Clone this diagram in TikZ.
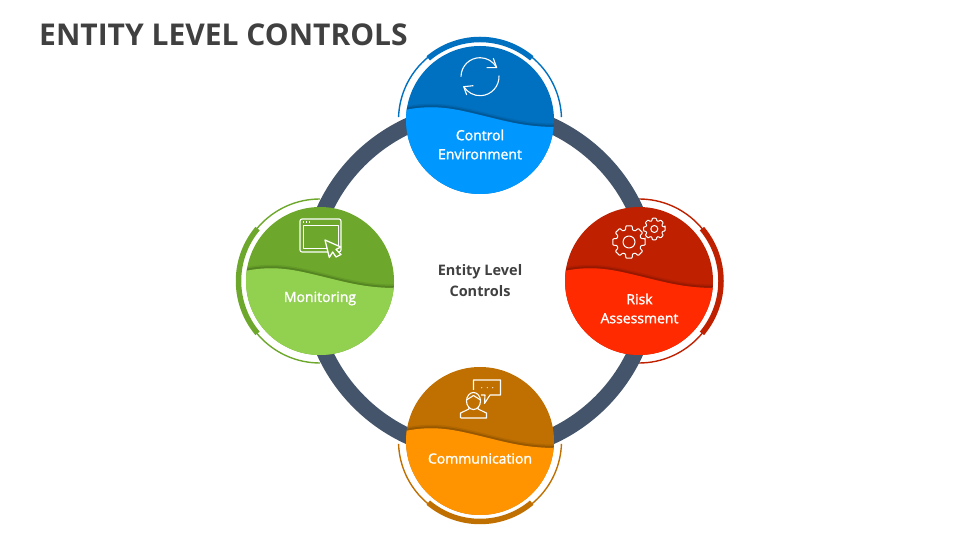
\documentclass[tikz,border=0pt]{standalone}
\usepackage{fontspec}
\setmainfont{Open Sans}
\newfontfamily\labelfont[FakeBold=1.6]{Open Sans}
\definecolor{ringslate}{HTML}{44546A}
\definecolor{titlegrey}{HTML}{404040}
\definecolor{ctrldark}{HTML}{0070C0}
\definecolor{ctrllight}{HTML}{0098FF}
\definecolor{riskdark}{HTML}{BF2000}
\definecolor{risklight}{HTML}{FF2A00}
\definecolor{commdark}{HTML}{C07000}
\definecolor{commlight}{HTML}{FF9400}
\definecolor{mondark}{HTML}{6DA82C}
\definecolor{monlight}{HTML}{92D050}
\tikzset{
  stagedisc/.style={circle, minimum size=148pt, inner sep=0pt, fill=#1},
  stagelabel/.style={text=white, align=center, font=\fontsize{14}{19}\selectfont\labelfont},
  thinarc/.style={draw=#1, line width=1.4pt},
  thickarc/.style={draw=#1, line width=5.5pt},
  icon/.style={draw=white, line width=1.1pt, line join=round}
}
% light lower half of a disc, with the soft dark edge of the wave
\newcommand{\wavefill}[4]{
\begin{scope}
\clip (#1pt, #2pt) circle (74pt);
\draw [#4, line width=5pt, opacity=0.25, shift={(#1pt, #2pt)}] (-75pt, 11pt) .. controls (-45pt, 17pt) and (-25pt, 12pt) .. (0pt, 6pt) .. controls (25pt, 0pt) and (45pt, -6pt) .. (75pt, -6pt);
\draw [#4, line width=2pt, opacity=0.6, shift={(#1pt, #2pt)}] (-75pt, 11pt) .. controls (-45pt, 17pt) and (-25pt, 12pt) .. (0pt, 6pt) .. controls (25pt, 0pt) and (45pt, -6pt) .. (75pt, -6pt);
\fill [#3, shift={(#1pt, #2pt)}] (-75pt, 10pt) .. controls (-45pt, 16pt) and (-25pt, 11pt) .. (0pt, 5pt) .. controls (25pt, -1pt) and (45pt, -7pt) .. (75pt, -7pt) -- (75pt, -75pt) -- (-75pt, -75pt) -- cycle;
\end{scope}
}
\newcommand{\gearicon}[5]{
\draw [icon, line width=1pt, rounded corners=0.8pt, shift={(#1pt, #2pt)}] (11:#3pt) \foreach \a in {0,45,...,315} { -- (\a+11:#3pt) -- (\a+16:#4pt) -- (\a+29:#4pt) -- (\a+34:#3pt) } -- cycle;
\draw [icon, line width=1pt] (#1pt, #2pt) circle (#5pt);
}
\begin{document}
\begin{tikzpicture}
\useasboundingbox (0pt, 0pt) rectangle (960pt, 540pt);

\node [font=\fontsize{30}{36}\selectfont\bfseries, text=titlegrey, anchor=west, inner sep=0pt] (title) at (39pt, 505pt) {ENTITY LEVEL CONTROLS};

% thin and thick arcs round the discs
\draw [thinarc=ctrldark, shift={(480pt, 420pt)}] (178:81.5pt) arc (178:2:81.5pt);
\draw [thickarc=ctrldark, shift={(480pt, 420pt)}] (130:80.5pt) arc (130:50:80.5pt);
\draw [thinarc=riskdark, shift={(639pt, 259pt)}] (90:82pt) arc (90:-90:82pt);
\draw [thickarc=riskdark, shift={(639.5pt, 259pt)}] (40:81.5pt) arc (40:-40:81.5pt);
\draw [thinarc=commdark, shift={(480pt, 99pt)}] (182:81.5pt) arc (182:358:81.5pt);
\draw [thickarc=commdark, shift={(480pt, 99pt)}] (230:80.5pt) arc (230:310:80.5pt);
\draw [thinarc=mondark, shift={(320pt, 259pt)}] (90:82pt) arc (90:270:82pt);
\draw [thickarc=mondark, shift={(320pt, 259pt)}] (140:81.5pt) arc (140:220:81.5pt);

\node [circle, draw=ringslate, line width=16pt, minimum size=342pt, inner sep=0pt] (ring) at (480pt, 259pt) {};

\node [stagedisc=ctrldark] (control) at (480pt, 420pt) {};
\node [stagedisc=riskdark] (risk) at (639pt, 259pt) {};
\node [stagedisc=commdark] (comm) at (480pt, 99pt) {};
\node [stagedisc=mondark] (monitor) at (320pt, 259pt) {};

\wavefill{480}{420}{ctrllight}{ctrldark!70!black}
\wavefill{639}{259}{risklight}{riskdark!70!black}
\wavefill{480}{99}{commlight}{commdark!70!black}
\wavefill{320}{259}{monlight}{mondark!70!black}

\node [stagelabel] (controllabel) at (480pt, 395.5pt) {Control\\Environment};
\node [stagelabel] (risklabel) at (639.5pt, 231.5pt) {Risk\\Assessment};
\node [stagelabel] (commlabel) at (480pt, 81.5pt) {Communication};
\node [stagelabel] (monitorlabel) at (320pt, 241.5pt) {Monitoring};
\node [font=\fontsize{14.5}{21}\selectfont\bfseries, text=titlegrey, align=center] (centre) at (480pt, 259pt) {Entity Level\\Controls};

% refresh icon
\draw [icon, shift={(480pt, 463.3pt)}] (180:19pt) arc (180:28:19pt);
\draw [icon] (493.3pt, 481.7pt) -- (496.7pt, 472.3pt) -- (486.7pt, 472.3pt);
\draw [icon, shift={(480pt, 463.3pt)}] (3:19pt) arc (3:-149:19pt);
\draw [icon] (473.3pt, 454.3pt) -- (463.7pt, 453.3pt) -- (466.7pt, 445pt);

% gears icon
\gearicon{629}{298}{16.5}{12.5}{6}
\gearicon{654.3}{311}{11}{8.5}{3.5}

% person and speech bubble icon
\draw [icon] (473.5pt, 139pt) ellipse (7pt and 8.5pt);
\draw [icon] (466.5pt, 140pt) -- (473.5pt, 144.5pt) -- (480.5pt, 140pt);
\draw [icon] (460.5pt, 122pt) -- (460.5pt, 127pt) -- (469pt, 131pt) -- (469pt, 133pt);
\draw [icon] (460.5pt, 122pt) -- (486.5pt, 122pt) -- (486.5pt, 127pt) -- (478pt, 131pt) -- (478pt, 133pt);
\draw [icon] (473.5pt, 150pt) -- (473.5pt, 160pt) -- (500.5pt, 160pt) -- (500.5pt, 145pt) -- (490pt, 145pt) -- (484.5pt, 136.5pt) -- (485pt, 145pt) -- (481pt, 145pt);
\foreach \x in {481.7,487.3,492.7} \fill [white] (\x pt, 152.3pt) circle (0.6pt);

% window and cursor icon
\draw [icon, rounded corners=2pt] (300pt, 288pt) rectangle (341pt, 321pt);
\draw [icon, line width=0.7pt] (303pt, 291.5pt) rectangle (338pt, 315pt);
\draw [icon, dotted] (303pt, 318pt) -- (310pt, 318pt);
\draw [icon, fill=mondark, line width=1.3pt] (325pt, 300pt) -- (340.7pt, 293pt) -- (336pt, 290.5pt) -- (341pt, 285.5pt) -- (336pt, 283pt) -- (332.7pt, 288pt) -- (329.3pt, 282.5pt) -- cycle;
\end{tikzpicture}
\end{document}
